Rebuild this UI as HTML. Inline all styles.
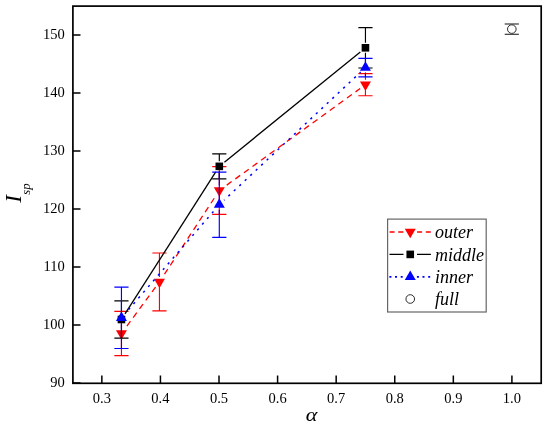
<!DOCTYPE html>
<html><head><meta charset="utf-8"><style>
html,body{margin:0;padding:0;background:#fff;}
body{width:550px;height:425px;overflow:hidden;}
svg{display:block;font-family:"Liberation Serif","Times New Roman",serif;}
</style></head><body>
<svg width="550" height="425" viewBox="0 0 550 425">
<path d="M101.85 383.3V375.5M160.43 383.3V375.5M219.01 383.3V375.5M277.59 383.3V375.5M336.17 383.3V375.5M394.75 383.3V375.5M453.33 383.3V375.5M511.91 383.3V375.5M72.9 383.1H80.5M72.9 325.1H80.5M72.9 267.1H80.5M72.9 209.1H80.5M72.9 151.1H80.5M72.9 93.1H80.5M72.9 35.1H80.5" stroke="#000" stroke-width="1.5" fill="none"/>
<path d="M125.37 328.14L155.53 287.21" stroke="#ff0000" stroke-width="1.3" fill="none" stroke-dasharray="6 4.6" stroke-dashoffset="-2.6"/>
<path d="M163.07 276.38L215.68 196.02" stroke="#ff0000" stroke-width="1.3" fill="none" stroke-dasharray="6 4.6" stroke-dashoffset="-2.6"/>
<path d="M224.65 186.63L360.1 88.57" stroke="#ff0000" stroke-width="1.3" fill="none" stroke-dasharray="6 4.6" stroke-dashoffset="-2.6"/>
<path d="M121.45 311.3V328.45M121.45 338.45V355.6M114.35 355.6H128.55M114.35 311.3H128.55" stroke="#ff0000" stroke-width="1.15" fill="none"/>
<path d="M159.45 253V276.9M159.45 286.9V310.8M152.35 310.8H166.55M152.35 253H166.55" stroke="#ff0000" stroke-width="1.15" fill="none"/>
<path d="M219.3 166.6V185.5M219.3 195.5V214.4M212.2 214.4H226.4M212.2 166.6H226.4" stroke="#ff0000" stroke-width="1.15" fill="none"/>
<path d="M365.45 73.6V79.7M365.45 89.7V95.7M358.35 95.7H372.55M358.35 73.6H372.55" stroke="#ff0000" stroke-width="1.15" fill="none"/>
<path d="M115.95 330.28H126.95L121.45 339.78Z" fill="#ff0000"/>
<path d="M153.95 278.73H164.95L159.45 288.23Z" fill="#ff0000"/>
<path d="M213.8 187.33H224.8L219.3 196.83Z" fill="#ff0000"/>
<path d="M359.95 81.53H370.95L365.45 91.03Z" fill="#ff0000"/>
<path d="M125 313.94L215.75 171.91" stroke="#000000" stroke-width="1.3" fill="none"/>
<path d="M224.43 162.19L360.32 51.96" stroke="#000000" stroke-width="1.3" fill="none"/>
<path d="M121.45 300.9V314.5M121.45 324.5V338.1M114.35 338.1H128.55M114.35 300.9H128.55" stroke="#000000" stroke-width="1.15" fill="none"/>
<path d="M219.3 153.9V161.35M219.3 171.35V178.8M212.2 178.8H226.4M212.2 153.9H226.4" stroke="#000000" stroke-width="1.15" fill="none"/>
<path d="M365.45 27.6V42.8M365.45 52.8V68M358.35 68H372.55M358.35 27.6H372.55" stroke="#000000" stroke-width="1.15" fill="none"/>
<rect x="117.65" y="315.7" width="7.6" height="7.6" fill="#000000"/>
<rect x="215.5" y="162.55" width="7.6" height="7.6" fill="#000000"/>
<rect x="361.65" y="44" width="7.6" height="7.6" fill="#000000"/>
<path d="M125.77 312.81L214.98 209.69" stroke="#0000ff" stroke-width="1.5" fill="none" stroke-dasharray="2.2 5.3" stroke-dashoffset="3.2"/>
<path d="M224.11 200.18L360.64 72.07" stroke="#0000ff" stroke-width="1.5" fill="none" stroke-dasharray="2.2 5.3" stroke-dashoffset="1.6"/>
<path d="M121.45 287.1V312.8M121.45 322.8V348.5M114.35 348.5H128.55M114.35 287.1H128.55" stroke="#0000ff" stroke-width="1.15" fill="none"/>
<path d="M219.3 172.1V199.7M219.3 209.7V237.3M212.2 237.3H226.4M212.2 172.1H226.4" stroke="#0000ff" stroke-width="1.15" fill="none"/>
<path d="M365.45 58.3V62.55M365.45 72.55V76.8M358.35 76.8H372.55M358.35 58.3H372.55" stroke="#0000ff" stroke-width="1.15" fill="none"/>
<path d="M115.95 320.97H126.95L121.45 311.47Z" fill="#0000ff"/>
<path d="M213.8 207.87H224.8L219.3 198.37Z" fill="#0000ff"/>
<path d="M359.95 70.72H370.95L365.45 61.22Z" fill="#0000ff"/>
<path d="M511.8 24V24.1M511.8 34.1V34.2M504.7 34.2H518.9M504.7 24H518.9" stroke="#111" stroke-width="1.15" fill="none"/>
<circle cx="511.8" cy="29.1" r="4.3" fill="#fff" stroke="#222" stroke-width="0.95"/>
<rect x="72.9" y="6.1" width="468.3" height="377.2" fill="none" stroke="#000" stroke-width="1.7"/>
<g font-size="14.5"><text x="101.85" y="403" text-anchor="middle">0.3</text><text x="160.43" y="403" text-anchor="middle">0.4</text><text x="219.01" y="403" text-anchor="middle">0.5</text><text x="277.59" y="403" text-anchor="middle">0.6</text><text x="336.17" y="403" text-anchor="middle">0.7</text><text x="394.75" y="403" text-anchor="middle">0.8</text><text x="453.33" y="403" text-anchor="middle">0.9</text><text x="511.91" y="403" text-anchor="middle">1.0</text><text x="64.8" y="387.4" text-anchor="end">90</text><text x="64.8" y="329.4" text-anchor="end">100</text><text x="64.8" y="271.4" text-anchor="end">110</text><text x="64.8" y="213.4" text-anchor="end">120</text><text x="64.8" y="155.4" text-anchor="end">130</text><text x="64.8" y="97.4" text-anchor="end">140</text><text x="64.8" y="39.4" text-anchor="end">150</text></g>
<text transform="translate(311.5 421.2) scale(1.08 0.95)" font-size="20.5" font-style="italic" text-anchor="middle">α</text>
<text transform="translate(21 202.7) rotate(-90)" font-size="23" font-style="italic">I<tspan font-size="12.8" dx="0.2" dy="8.7">sp</tspan></text>
<rect x="387.6" y="219.1" width="98.6" height="92.9" fill="none" stroke="#666" stroke-width="1.2"/>
<path d="M389.6 232.0H394.6M398.3 232.0H403.4M417.1 232.0H422.1M425.8 232.0H430.8" stroke="#ff0000" stroke-width="1.5"/>
<path d="M404.75 228.83H415.75L410.25 238.33Z" fill="#ff0000"/>
<path d="M389.5 254.4H403.5M417 254.4H430.9" stroke="#000000" stroke-width="1.2"/>
<rect x="406.45" y="250.6" width="7.6" height="7.6" fill="#000000"/>
<path d="M389.4 276.8h2M395 276.8h2M400.7 276.8h2M416.9 276.8h2M422.5 276.8h2M428.2 276.8h2" stroke="#0000ff" stroke-width="1.8"/>
<path d="M404.75 279.97H415.75L410.25 270.47Z" fill="#0000ff"/>
<circle cx="410.25" cy="299" r="4.3" fill="#fff" stroke="#222" stroke-width="0.95"/>
<g font-size="18" font-style="italic"><text x="435" y="238.2">outer</text><text x="435" y="260.6">middle</text><text x="435" y="283">inner</text><text x="435" y="305.2">full</text></g>
</svg>
</body></html>
